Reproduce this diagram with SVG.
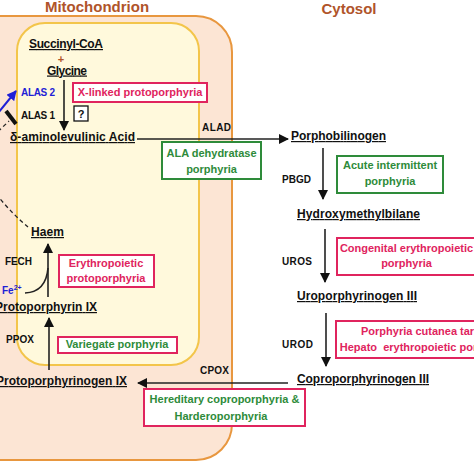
<svg xmlns="http://www.w3.org/2000/svg" width="474" height="474" viewBox="0 0 474 474">
<defs>
<style>
.t{font-family:"Liberation Sans",Arial,sans-serif;font-weight:bold}
.c{font-size:12px;fill:#111;text-decoration:underline}
.e{font-size:10px;fill:#111}
.bl{fill:#1f1fd6}
.r{font-size:11px;fill:#e0245e;text-anchor:middle}
.g{font-size:11px;fill:#2e8b3a;text-anchor:middle}
.ti{font-size:15px;fill:#b0542a;text-anchor:middle}
.br{fill:#fff;stroke:#e0245e;stroke-width:2}
.bg{fill:#fff;stroke:#2e8b3a;stroke-width:2}
.ar{stroke:#222;stroke-width:1.6;fill:none;marker-end:url(#ah)}
</style>
<marker id="ah" viewBox="0 0 10 10" refX="9" refY="5" markerWidth="10" markerHeight="10" markerUnits="userSpaceOnUse" orient="auto">
<path d="M0,0 L10,5 L0,10 z" fill="#111"/>
</marker>
<marker id="ahb" viewBox="0 0 10 10" refX="9" refY="5" markerWidth="10" markerHeight="10" markerUnits="userSpaceOnUse" orient="auto">
<path d="M0,0 L10,5 L0,10 z" fill="#1f1fd6"/>
</marker>
</defs>
<rect width="474" height="474" fill="#fff"/>
<g id="compartments">
<rect x="-40" y="16" width="272" height="444" rx="36" fill="#fce5d4" stroke="#e8973f" stroke-width="2"/>
<rect x="17" y="23" width="182" height="342" rx="28" fill="#fff9dc" stroke="#f3c54a" stroke-width="2"/>
<text class="t ti" x="97" y="12">Mitochondrion</text>
<text class="t ti" x="349" y="14">Cytosol</text>
</g>
<g id="connectors">
<line class="ar" x1="64" y1="80" x2="64" y2="130"/>
<line class="ar" x1="137" y1="139" x2="288" y2="139"/>
<line class="ar" x1="323" y1="148" x2="323" y2="199"/>
<line class="ar" x1="325" y1="229" x2="325" y2="282"/>
<line class="ar" x1="326" y1="313" x2="326" y2="366"/>
<line class="ar" x1="288" y1="383" x2="138" y2="383"/>
<line class="ar" x1="49" y1="370" x2="49" y2="318"/>
<line class="ar" x1="48" y1="297" x2="48" y2="244"/>
<path d="M25,293 Q46,292 48,268" fill="none" stroke="#222" stroke-width="1.6"/>
<path d="M28,227 C10,212 -20,180 -20,160 C-20,145 -5,135 9,121" fill="none" stroke="#222" stroke-width="1.3" stroke-dasharray="4,3"/>
<line x1="-2" y1="113" x2="16" y2="91" stroke="#1f1fd6" stroke-width="2" marker-end="url(#ahb)"/>
<line x1="6" y1="111" x2="16" y2="124" stroke="#111" stroke-width="4"/>
</g>
<g id="n-succinyl"><text class="t c" x="29" y="48" textLength="74">Succinyl-CoA</text></g>
<g id="n-plus"><text class="t" x="61" y="62.5" font-size="11" fill="#b0542a" text-anchor="middle">+</text></g>
<g id="n-glycine"><text class="t c" x="47" y="74.5" textLength="40">Glycine</text></g>
<g id="n-alas2"><text class="t e bl" x="21" y="96" textLength="34">ALAS 2</text></g>
<g id="n-alas1"><text class="t e" x="21" y="119" textLength="34">ALAS 1</text></g>
<g id="n-xlinked"><rect class="br" x="73" y="83" width="134" height="19"/><text class="t r" x="140" y="96">X-linked protoporphyria</text></g>
<g id="n-q"><rect x="74" y="106" width="14" height="15" fill="#fff" stroke="#111" stroke-width="1.3"/><text class="t" x="81" y="118" font-size="11" fill="#111" text-anchor="middle">?</text></g>
<g id="n-ala"><text class="t c" x="10" y="141" textLength="125">δ-aminolevulinic Acid</text></g>
<g id="n-alad"><text class="t e" x="202" y="131" textLength="29">ALAD</text></g>
<g id="n-aladp"><rect class="bg" x="162" y="142" width="99" height="37"/><text class="t g" x="211.5" y="157">ALA dehydratase</text><text class="t g" x="211.5" y="173">porphyria</text></g>
<g id="n-pbg"><text class="t c" x="291" y="140" textLength="95">Porphobilinogen</text></g>
<g id="n-pbgd"><text class="t e" x="282" y="183" textLength="29">PBGD</text></g>
<g id="n-aip"><rect class="bg" x="337" y="156" width="106" height="37"/><text class="t g" x="390" y="169">Acute intermittent</text><text class="t g" x="390" y="185">porphyria</text></g>
<g id="n-hmb"><text class="t c" x="297" y="218" textLength="123">Hydroxymethylbilane</text></g>
<g id="n-uros"><text class="t e" x="282" y="265" textLength="30">UROS</text></g>
<g id="n-cep"><rect class="br" x="337" y="238" width="150" height="37"/><text class="t r" x="406.5" y="252">Congenital erythropoietic</text><text class="t r" x="406.5" y="267">porphyria</text></g>
<g id="n-uro"><text class="t c" x="297" y="300" textLength="120">Uroporphyrinogen III</text></g>
<g id="n-urod"><text class="t e" x="282" y="348" textLength="31">UROD</text></g>
<g id="n-pct"><rect class="br" x="336" y="321" width="180" height="37"/><text class="t r" x="424" y="335">Porphyria cutanea tarda</text><text class="t r" x="425" y="351" xml:space="preserve">Hepato  erythropoietic porphyria</text></g>
<g id="n-copro"><text class="t c" x="297" y="383" textLength="132">Coproporphyrinogen III</text></g>
<g id="n-cpox"><text class="t e" x="200" y="374" textLength="29">CPOX</text></g>
<g id="n-hcp"><rect class="br" x="144" y="389" width="161" height="37"/><text class="t g" x="224.5" y="403">Hereditary coproporphyria &amp;</text><text class="t g" x="221" y="420">Harderoporphyria</text></g>
<g id="n-protogen"><text class="t c" x="-4" y="385" textLength="131">Protoporphyrinogen IX</text></g>
<g id="n-ppox"><text class="t e" x="6" y="343" textLength="28">PPOX</text></g>
<g id="n-vp"><rect class="br" x="58" y="337" width="119" height="16"/><text class="t g" x="117" y="348">Variegate porphyria</text></g>
<g id="n-proto"><text class="t c" x="-5" y="311" textLength="102">Protoporphyrin IX</text></g>
<g id="n-fech"><text class="t e" x="5" y="265" textLength="27">FECH</text></g>
<g id="n-fe"><text class="t e bl" x="2" y="294">Fe<tspan font-size="7" dy="-4">2+</tspan></text></g>
<g id="n-epp"><rect class="br" x="59" y="255" width="95" height="32"/><text class="t r" x="106" y="267">Erythropoietic</text><text class="t r" x="106" y="282">protoporphyria</text></g>
<g id="n-haem"><text class="t c" x="31" y="236" textLength="33">Haem</text></g>
</svg>
